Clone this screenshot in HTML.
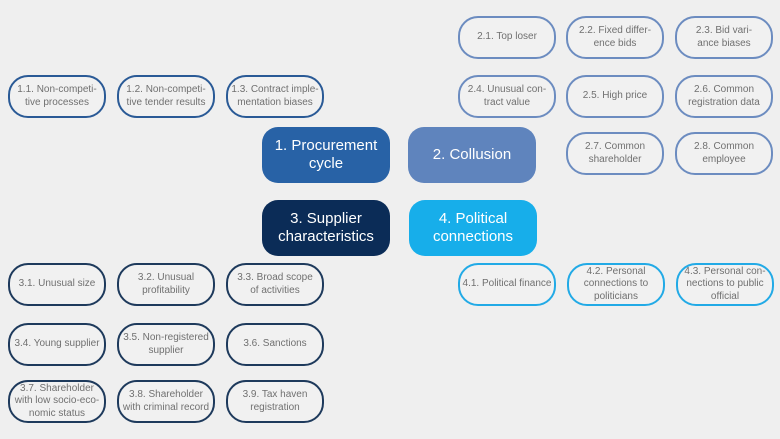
<!DOCTYPE html>
<html><head><style>
html,body{margin:0;padding:0}
body{width:780px;height:439px;background:#efefef;position:relative;overflow:hidden;font-family:"Liberation Sans",sans-serif}
.p{position:absolute;box-sizing:border-box;width:98px;height:43px;border:2px solid #2a5a96;border-radius:20px;display:flex;align-items:center;justify-content:center;text-align:center;font-size:10px;line-height:12.5px;color:#707070;background:#f1f1f1;white-space:nowrap}
.c{border-color:#6c8cc0}
.n{border-color:#1e3a5c}
.b{border-color:#22aae6}
.m{position:absolute;box-sizing:border-box;width:128px;height:56px;border-radius:16px;display:flex;align-items:center;justify-content:center;text-align:center;color:#fff;font-size:15px;line-height:18px}
</style></head><body>
<div class="p" style="left:8px;top:75px">1.1. Non-competi-<br>tive processes</div>
<div class="p" style="left:117px;top:75px">1.2. Non-competi-<br>tive tender results</div>
<div class="p" style="left:226px;top:75px">1.3. Contract imple-<br>mentation biases</div>

<div class="p c" style="left:458px;top:16px">2.1. Top loser</div>
<div class="p c" style="left:566px;top:16px">2.2. Fixed differ-<br>ence bids</div>
<div class="p c" style="left:675px;top:16px">2.3. Bid vari-<br>ance biases</div>
<div class="p c" style="left:458px;top:75px">2.4. Unusual con-<br>tract value</div>
<div class="p c" style="left:566px;top:75px">2.5. High price</div>
<div class="p c" style="left:675px;top:75px">2.6. Common<br>registration data</div>
<div class="p c" style="left:566px;top:132px">2.7. Common<br>shareholder</div>
<div class="p c" style="left:675px;top:132px">2.8. Common<br>employee</div>

<div class="m" style="left:262px;top:127px;background:#2862a6">1. Procurement<br>cycle</div>
<div class="m" style="left:408px;top:127px;background:#5f84bd">2. Collusion</div>
<div class="m" style="left:262px;top:200px;background:#0b2c57">3. Supplier<br>characteristics</div>
<div class="m" style="left:409px;top:200px;background:#17aeea">4. Political<br>connections</div>

<div class="p n" style="left:8px;top:263px">3.1. Unusual size</div>
<div class="p n" style="left:117px;top:263px">3.2. Unusual<br>profitability</div>
<div class="p n" style="left:226px;top:263px">3.3. Broad scope<br>of activities</div>
<div class="p n" style="left:8px;top:323px">3.4. Young supplier</div>
<div class="p n" style="left:117px;top:323px">3.5. Non-registered<br>supplier</div>
<div class="p n" style="left:226px;top:323px">3.6. Sanctions</div>
<div class="p n" style="left:8px;top:380px">3.7. Shareholder<br>with low socio-eco-<br>nomic status</div>
<div class="p n" style="left:117px;top:380px">3.8. Shareholder<br>with criminal record</div>
<div class="p n" style="left:226px;top:380px">3.9. Tax haven<br>registration</div>

<div class="p b" style="left:458px;top:263px">4.1. Political finance</div>
<div class="p b" style="left:567px;top:263px">4.2. Personal<br>connections to<br>politicians</div>
<div class="p b" style="left:676px;top:263px">4.3. Personal con-<br>nections to public<br>official</div>
</body></html>
